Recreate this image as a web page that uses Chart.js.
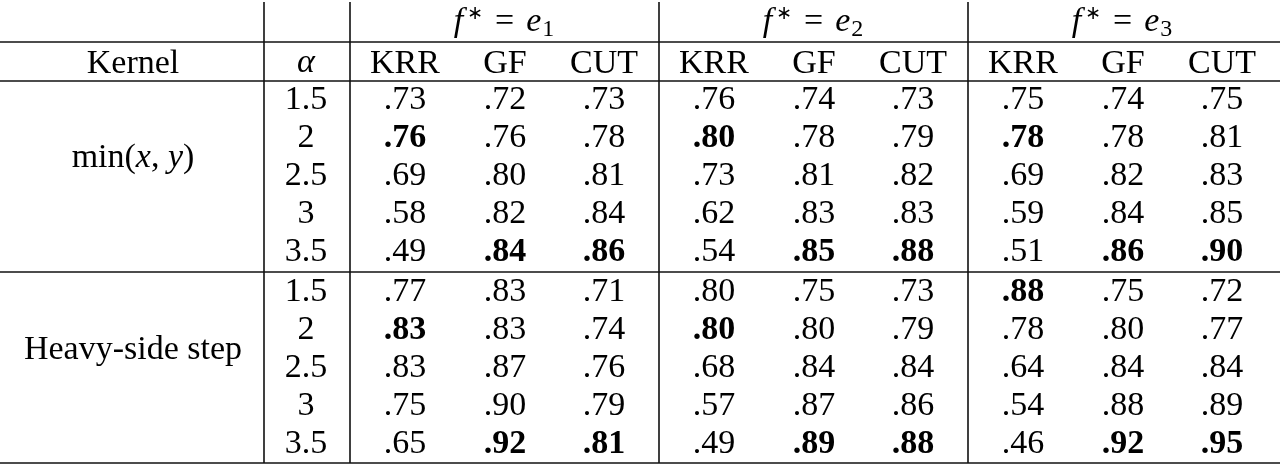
<!DOCTYPE html>
<html>
<head>
<meta charset="utf-8">
<title>Kernel comparison table</title>
<script src="https://cdn.jsdelivr.net/npm/chart.js@4.4.1/dist/chart.umd.min.js"></script>
<style>
    html, body { margin: 0; padding: 0; background: #fff; }
    canvas { display: block; }
</style>
</head>
<body>
<canvas id="kernel-table" width="1280" height="467"></canvas>
<script>
// Table: scores per kernel / alpha / target / method

const KERNELS = ['min(x, y)', 'Heavy-side step'];
const ALPHAS = ['1.5', '2', '2.5', '3', '3.5'];
const TARGETS = ['1', '2', '3'];          // f* = e_i
const METHODS = ['KRR', 'GF', 'CUT'];

// rows = alpha, columns = e1 KRR GF CUT | e2 KRR GF CUT | e3 KRR GF CUT
const MIN_SCORES = [
    [.73, .72, .73, .76, .74, .73, .75, .74, .75],
    [.76, .76, .78, .80, .78, .79, .78, .78, .81],
    [.69, .80, .81, .73, .81, .82, .69, .82, .83],
    [.58, .82, .84, .62, .83, .83, .59, .84, .85],
    [.49, .84, .86, .54, .85, .88, .51, .86, .90],
];
const HEAVY_SCORES = [
    [.77, .83, .71, .80, .75, .73, .88, .75, .72],
    [.83, .83, .74, .80, .80, .79, .78, .80, .77],
    [.83, .87, .76, .68, .84, .84, .64, .84, .84],
    [.75, .90, .79, .57, .87, .86, .54, .88, .89],
    [.65, .92, .81, .49, .89, .88, .46, .92, .95],
];
// bold cells [row, col]
const MIN_BEST = [[1, 0], [4, 1], [4, 2], [1, 3], [4, 4], [4, 5], [1, 6], [4, 7], [4, 8]];
const HEAVY_BEST = [[1, 0], [4, 1], [4, 2], [1, 3], [4, 4], [4, 5], [0, 6], [4, 7], [4, 8]];

// ------------------------------------------------------------
// layout (in scale units = px of the 1280x467 picture)
// ------------------------------------------------------------
const LAYOUT = {
    kernelX: 133,
    alphaX: 306,
    groupLeft: [350, 659, 968],
    methodOffset: [55, 155, 254],
    headerY: [18, 61],
    rowY: [[97, 135, 173, 211, 249], [289, 327, 365, 403, 441]],
    kernelY: [155, 347],
    hRules: [42, 81, 272, 463],
    vRules: [264, 350, 659, 968],
    vTop: 2,
    vBottom: 463,
};

const FONT = '"Liberation Serif", "Times New Roman", serif';
const SIZE = 34;

function fmt(v) {
    return v.toFixed(2).replace(/^0/, '');
}

function colX(g, m) {
    return LAYOUT.groupLeft[g] + LAYOUT.methodOffset[m];
}

// ------------------------------------------------------------
// build cells
// ------------------------------------------------------------
const cells = [];

TARGETS.forEach((t, g) => {
    cells.push({ x: LAYOUT.groupLeft[g] + 154, y: LAYOUT.headerY[0], kind: 'target', label: t });
    METHODS.forEach((m, j) => {
        cells.push({ x: colX(g, j), y: LAYOUT.headerY[1], kind: 'text', label: m });
    });
});
cells.push({ x: LAYOUT.kernelX, y: LAYOUT.headerY[1], kind: 'text', label: 'Kernel' });
cells.push({ x: LAYOUT.alphaX, y: LAYOUT.headerY[1], kind: 'alpha', label: 'α' });

[MIN_SCORES, HEAVY_SCORES].forEach((scores, k) => {
    const best = k === 0 ? MIN_BEST : HEAVY_BEST;
    cells.push({ x: LAYOUT.kernelX, y: LAYOUT.kernelY[k], kind: k === 0 ? 'min' : 'text', label: KERNELS[k] });
    ALPHAS.forEach((a, r) => {
        const y = LAYOUT.rowY[k][r];
        cells.push({ x: LAYOUT.alphaX, y, kind: 'text', label: a });
        scores[r].forEach((v, c) => {
            const bold = best.some(b => b[0] === r && b[1] === c);
            cells.push({
                x: colX(Math.floor(c / 3), c % 3),
                y,
                kind: bold ? 'bold' : 'text',
                label: fmt(v),
            });
        });
    });
});

// rules as line datasets
const ruleSets = [];
LAYOUT.hRules.forEach(y => {
    ruleSets.push([{ x: 0, y }, { x: 1280, y }]);
});
LAYOUT.vRules.forEach(x => {
    ruleSets.push([{ x, y: LAYOUT.vTop }, { x, y: LAYOUT.vBottom }]);
});

// ------------------------------------------------------------
// text drawing
// ------------------------------------------------------------
function drawRich(ctx, cx, baseline, segs) {
    let total = 0;
    segs.forEach(s => {
        ctx.font = s.font;
        s.w = ctx.measureText(s.text).width + (s.gap || 0);
        total += s.w;
    });
    let x = cx - total / 2;
    segs.forEach(s => {
        ctx.font = s.font;
        ctx.fillText(s.text, x, baseline + (s.dy || 0));
        x += s.w;
    });
}

const tableText = {
    id: 'tableText',
    afterDatasetsDraw(chart) {
        const ctx = chart.ctx;
        const meta = chart.getDatasetMeta(0);
        const data = chart.data.datasets[0].data;
        const up = `${SIZE}px ${FONT}`;
        const it = `italic ${SIZE}px ${FONT}`;
        const small = `${Math.round(SIZE * 0.7)}px ${FONT}`;
        const star = `${Math.round(SIZE * 0.55)}px "DejaVu Sans", sans-serif`;

        ctx.save();
        ctx.fillStyle = '#000';
        ctx.textBaseline = 'alphabetic';
        meta.data.forEach((el, i) => {
            const d = data[i];
            const base = el.y + 12;
            if (d.kind === 'target') {
                ctx.textAlign = 'left';
                drawRich(ctx, el.x, base + 1, [
                    { text: 'f', font: it, gap: 4 },
                    { text: '∗', font: star, dy: -12, gap: 12 },
                    { text: '=', font: up, gap: 12 },
                    { text: 'e', font: it, gap: 1 },
                    { text: d.label, font: small, dy: 5 },
                ]);
            } else if (d.kind === 'min') {
                ctx.textAlign = 'left';
                drawRich(ctx, el.x, base, [
                    { text: 'min(', font: up },
                    { text: 'x', font: it },
                    { text: ', ', font: up },
                    { text: 'y', font: it },
                    { text: ')', font: up },
                ]);
            } else {
                ctx.textAlign = 'center';
                ctx.font = d.kind === 'bold' ? `bold ${SIZE}px ${FONT}`
                    : d.kind === 'alpha' ? it : up;
                ctx.fillText(d.label, el.x, d.kind === 'alpha' ? base - 1 : base);
            }
        });
        ctx.restore();
    },
};

// ------------------------------------------------------------
// chart
// ------------------------------------------------------------
new Chart(document.getElementById('kernel-table'), {
    type: 'scatter',
    data: {
        datasets: [
            {
                label: 'cells',
                data: cells,
                pointRadius: 0,
                pointHoverRadius: 0,
                showLine: false,
            },
            ...ruleSets.map(pts => ({
                label: 'rule',
                data: pts,
                showLine: true,
                borderColor: '#111',
                borderWidth: 1.6,
                pointRadius: 0,
                pointHoverRadius: 0,
                fill: false,
            })),
        ],
    },
    options: {
        responsive: false,
        animation: false,
        events: [],
        layout: { padding: 0 },
        plugins: {
            legend: { display: false },
            tooltip: { enabled: false },
        },
        scales: {
            x: { type: 'linear', min: 0, max: 1280, display: false },
            y: { type: 'linear', min: 0, max: 467, reverse: true, display: false },
        },
    },
    plugins: [tableText],
});
</script>
</body>
</html>
